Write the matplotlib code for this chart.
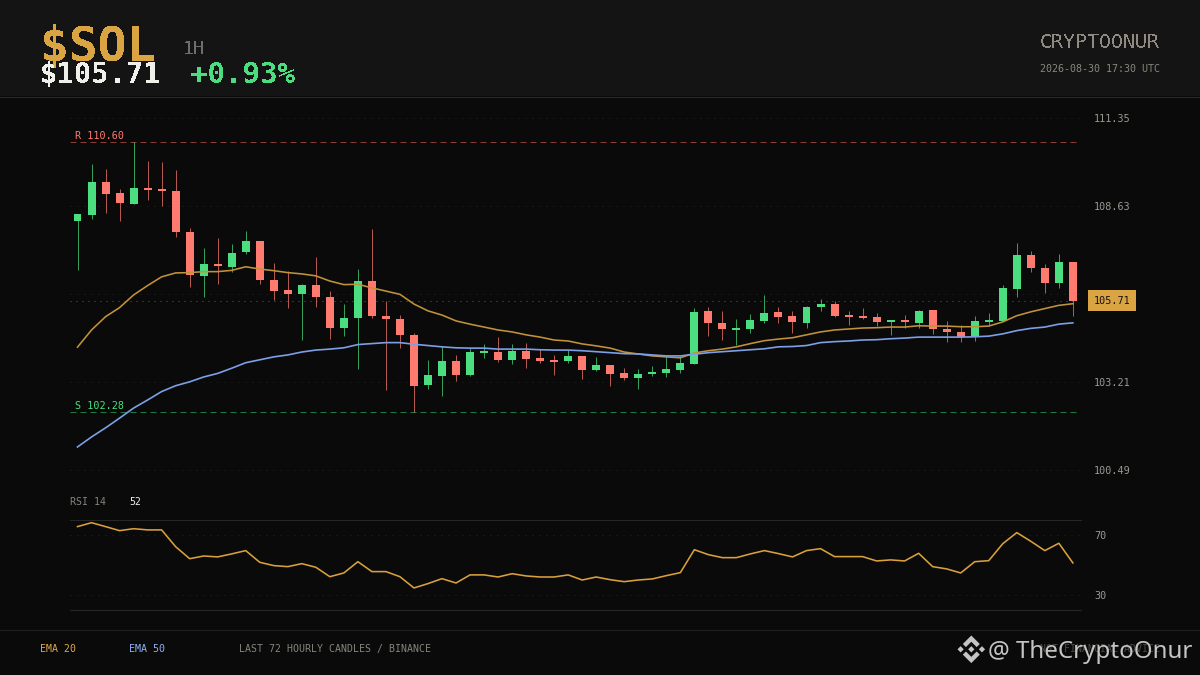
import matplotlib
matplotlib.use('Agg')
import matplotlib.pyplot as plt
from matplotlib.patches import Polygon, Rectangle

# Candles, last 72 hours
opens = [108.17, 108.36, 109.38, 109.04, 108.70, 109.19, 109.16, 109.10, 107.83, 106.48, 106.85, 106.75,
         107.22, 107.56, 106.35, 106.04, 105.92, 106.20, 105.83, 104.87, 105.18, 106.32, 105.24, 105.15,
         104.66, 103.11, 103.39, 103.85, 103.42, 104.10, 104.13, 103.88, 104.16, 103.95, 103.88, 103.85,
         104.01, 103.58, 103.73, 103.48, 103.33, 103.45, 103.48, 103.58, 103.76, 105.40, 105.03, 104.81,
         104.84, 105.09, 105.37, 105.24, 105.03, 105.52, 105.61, 105.27, 105.24, 105.21, 105.06, 105.12,
         105.03, 105.43, 104.84, 104.75, 104.59, 105.06, 105.09, 106.07, 107.12, 106.72, 106.26, 106.91]
highs = [108.39, 109.93, 109.78, 109.16, 110.60, 110.02, 109.99, 109.75, 107.96, 107.34, 107.65, 107.46,
         107.86, 107.56, 106.88, 106.63, 106.23, 107.06, 106.01, 105.61, 106.69, 107.93, 105.71, 105.27,
         104.72, 103.88, 104.32, 104.04, 104.25, 104.38, 104.59, 104.38, 104.41, 104.22, 104.04, 104.19,
         104.01, 103.98, 103.73, 103.64, 103.61, 103.70, 104.01, 104.01, 105.49, 105.52, 105.40, 105.15,
         105.30, 105.89, 105.52, 105.40, 105.55, 105.77, 105.71, 105.40, 105.49, 105.33, 105.12, 105.27,
         105.43, 105.43, 105.09, 104.96, 105.24, 105.33, 106.20, 107.49, 107.25, 106.85, 107.15, 106.91]
lows = [106.66, 108.23, 108.42, 108.17, 108.70, 108.82, 108.64, 107.68, 106.14, 105.83, 106.23, 106.60,
        107.15, 106.23, 105.74, 105.49, 104.50, 105.52, 104.53, 104.62, 103.61, 105.18, 102.96, 104.25,
        102.28, 102.99, 102.77, 103.24, 103.39, 103.95, 103.82, 103.76, 103.64, 103.79, 103.42, 103.79,
        103.30, 103.54, 103.08, 103.27, 102.99, 103.39, 103.36, 103.48, 103.76, 104.62, 104.50, 104.35,
        104.72, 105.03, 105.03, 104.72, 104.87, 105.40, 105.21, 104.96, 105.15, 104.93, 104.66, 104.87,
        104.87, 104.69, 104.44, 104.44, 104.47, 104.93, 105.09, 105.83, 106.60, 105.95, 106.11, 105.24]
closes = [108.39, 109.38, 109.01, 108.73, 109.19, 109.13, 109.10, 107.83, 106.51, 106.85, 106.78, 107.19,
          107.56, 106.35, 106.01, 105.92, 106.20, 105.83, 104.87, 105.18, 106.32, 105.24, 105.15, 104.66,
          103.08, 103.42, 103.85, 103.42, 104.13, 104.16, 103.88, 104.16, 103.92, 103.85, 103.82, 104.01,
          103.58, 103.73, 103.45, 103.33, 103.45, 103.51, 103.61, 103.79, 105.37, 105.03, 104.84, 104.87,
          105.12, 105.33, 105.21, 105.06, 105.52, 105.61, 105.24, 105.21, 105.18, 105.06, 105.12, 105.06,
          105.40, 104.84, 104.75, 104.59, 105.09, 105.12, 106.11, 107.12, 106.72, 106.26, 106.91, 105.71]

ema20 = [104.28, 104.81, 105.22, 105.50, 105.89, 106.18, 106.45, 106.57, 106.58, 106.61, 106.61, 106.65,
         106.76, 106.69, 106.64, 106.58, 106.54, 106.48, 106.32, 106.21, 106.22, 106.11, 106.01, 105.91,
         105.61, 105.40, 105.27, 105.09, 104.99, 104.90, 104.81, 104.75, 104.66, 104.59, 104.50, 104.47,
         104.38, 104.32, 104.25, 104.13, 104.07, 104.01, 103.98, 103.95, 104.10, 104.17, 104.22, 104.29,
         104.39, 104.48, 104.53, 104.57, 104.66, 104.75, 104.81, 104.84, 104.87, 104.88, 104.90, 104.90,
         104.94, 104.93, 104.93, 104.91, 104.91, 104.93, 105.06, 105.25, 105.37, 105.47, 105.57, 105.62]
ema50 = [101.20, 101.51, 101.79, 102.09, 102.40, 102.65, 102.91, 103.09, 103.21, 103.36, 103.47, 103.63,
         103.80, 103.89, 103.98, 104.04, 104.13, 104.19, 104.22, 104.26, 104.36, 104.39, 104.42, 104.42,
         104.37, 104.33, 104.29, 104.26, 104.25, 104.25, 104.22, 104.22, 104.22, 104.20, 104.19, 104.19,
         104.17, 104.14, 104.11, 104.08, 104.07, 104.04, 104.01, 104.01, 104.06, 104.11, 104.14, 104.17,
         104.20, 104.23, 104.29, 104.30, 104.33, 104.42, 104.45, 104.47, 104.50, 104.51, 104.54, 104.56,
         104.59, 104.59, 104.59, 104.59, 104.60, 104.62, 104.69, 104.79, 104.86, 104.90, 104.99, 105.03]
rsi = [75.8, 78.4, 75.8, 73.1, 74.4, 73.6, 73.6, 62.4, 54.4, 56.2, 55.6, 57.6, 59.8, 52.0, 49.8, 49.1,
       51.1, 48.7, 42.4, 44.9, 52.4, 45.8, 45.8, 42.4, 34.9, 37.8, 41.1, 38.2, 43.6, 43.6, 42.2, 44.4,
       42.9, 42.2, 42.2, 43.6, 40.2, 42.2, 40.4, 39.1, 40.2, 40.9, 43.1, 45.1, 60.4, 57.1, 55.1, 55.1,
       57.6, 59.8, 57.8, 55.6, 59.8, 61.1, 55.8, 55.8, 55.8, 52.9, 53.6, 52.9, 58.0, 49.1, 47.6, 44.9,
       52.4, 53.1, 64.4, 71.8, 66.0, 59.8, 64.7, 51.6]

price_ticks = [100.49, 103.21, 105.92, 108.63, 111.35]
rsi_ticks = [30, 70]
resistance = 110.60
support = 102.28
last_price = 105.71

# Colors
BG = '#0a0a0a'
HEADER = '#141414'
GOLD = '#d9a441'
GREEN = '#4ade80'
RED = '#ff7b6f'
BLUE = '#7c9fe6'
MUTED = '#9a9a92'

plt.rcParams['font.family'] = ['DejaVu Sans Mono']

W, H = 1200, 675
fig = plt.figure(figsize=(W / 100, H / 100), dpi=100, facecolor=BG)


def fx(x):
    return x / W


def fy(y):
    return 1 - y / H


def label(x, y, s, **kw):
    kw.setdefault('family', 'DejaVu Sans Mono')
    return fig.text(fx(x), fy(y), s, va=kw.pop('va', 'baseline'), **kw)


# Header band and separators
fig.add_artist(Rectangle((0, fy(96)), 1, 96 / H, transform=fig.transFigure, facecolor=HEADER, edgecolor='none', zorder=-5))
fig.add_artist(plt.Line2D([0, 1], [fy(96.5), fy(96.5)], color='#2b2725', lw=0.8, zorder=-4))
fig.add_artist(plt.Line2D([0, 1], [fy(629.5), fy(629.5)], color='#1f1f1f', lw=0.8, zorder=-4))

# Price panel
ax = fig.add_axes([fx(70), fy(470), 1011 / W, 352 / H], facecolor='none')
idx = list(range(len(closes)))
xlim = (-0.535, 71.58)
ax.set_xlim(xlim)
ax.set_ylim(price_ticks[0], price_ticks[-1])

colors = [GREEN if c >= o else RED for o, c in zip(opens, closes)]
ax.vlines(idx, lows, highs, colors=colors, lw=0.72, alpha=0.7, zorder=3)
ax.bar(idx, [abs(c - o) for o, c in zip(opens, closes)], bottom=[min(o, c) for o, c in zip(opens, closes)],
       width=0.57, color=colors, linewidth=0, zorder=4)

ax.plot(idx, ema20, color='#c2923a', lw=1.15, zorder=5)
ax.plot(idx, ema50, color=BLUE, lw=1.2, zorder=5)

# Support / resistance and last price
ax.axhline(resistance, xmax=0.996, color='#8a3c38', lw=0.72, ls=(0, (6, 4)), zorder=2)
ax.axhline(support, xmax=0.996, color='#1f7a42', lw=0.72, ls=(0, (6, 4)), zorder=2)
ax.axhline(last_price, xmax=0.996, color='#6e5a30', lw=0.72, ls=(0, (1, 5)), zorder=2)
ax.annotate(f'R {resistance:.2f}', (0.005, resistance), xycoords=ax.get_yaxis_transform(), xytext=(0, 2.5),
            textcoords='offset points', color=RED, fontsize=7.3)
ax.annotate(f'S {support:.2f}', (0.005, support), xycoords=ax.get_yaxis_transform(), xytext=(0, 2.5),
            textcoords='offset points', color=GREEN, fontsize=7.3)
ax.text((1112 - 70) / 1011, last_price, f'{last_price:.2f}', transform=ax.get_yaxis_transform(), ha='center',
        va='center', color='#111111', fontsize=7.3, zorder=8, clip_on=False,
        bbox=dict(facecolor=GOLD, edgecolor='none', boxstyle='square,pad=0.55'))

ax.set_xticks([])
ax.set_yticks(price_ticks)
ax.set_yticklabels([f'{v:.2f}' for v in price_ticks])
ax.yaxis.tick_right()
ax.tick_params(axis='y', length=0, pad=9.4, labelsize=7.3, labelcolor=MUTED)
ax.grid(axis='y', color='#242424', lw=0.72, ls=(0, (1, 6)), clip_on=False)
ax.set_axisbelow(True)
for s in ax.spines.values():
    s.set_visible(False)

# RSI panel
rax = fig.add_axes([fx(70), fy(610.3), 1011 / W, 90 / H], facecolor='none')
rax.set_xlim(xlim)
rax.set_ylim(20, 80)
rax.plot(idx, rsi, color='#d9a03c', lw=1.15, zorder=4)
rax.set_xticks([])
rax.set_yticks(rsi_ticks)
rax.set_yticklabels([str(v) for v in rsi_ticks])
rax.yaxis.tick_right()
rax.tick_params(axis='y', length=0, pad=9.4, labelsize=7.3, labelcolor=MUTED)
rax.grid(axis='y', color='#242424', lw=0.72, ls=(0, (1, 6)))
rax.set_axisbelow(True)
for side, s in rax.spines.items():
    s.set_visible(side in ('top', 'bottom'))
    s.set_color('#262626')
    s.set_linewidth(0.8)

# Header text, big sizes keep the jagged look of the original
label(40, 60.5, '$SOL', color=GOLD, fontsize=34.6, fontweight='bold', antialiased=False)
label(183, 54, '1H', color='#6e6e6a', fontsize=13.2, antialiased=False)
label(40, 83, '$105.71', color='#f0f0ea', fontsize=20.8, fontweight='bold', antialiased=False)
label(190, 83, '+0.93%', color=GREEN, fontsize=21, fontweight='bold', antialiased=False)
label(1160, 48, 'CRYPTOONUR', color='#8f8b80', fontsize=14.4, ha='right', antialiased=False)
label(1160, 71.5, '2026-08-30 17:30 UTC', color='#8a877e', fontsize=7.2, ha='right')
label(70, 505, 'RSI 14', color='#85857d', fontsize=7.1)
label(129, 505, '52', color='#f0f0ea', fontsize=7.1)

# Footer text
label(40, 652, 'EMA 20', color='#e0a84a', fontsize=7.1)
label(129, 652, 'EMA 50', color='#8fb0f5', fontsize=7.2)
label(239, 652, 'LAST 72 HOURLY CANDLES / BINANCE', color='#85857d', fontsize=7.1)
label(1160, 652, 'NOT FINANCIAL ADVICE', color='#4a4a45', fontsize=7.1, ha='right')

# Watermark, logo shapes from a 126.6 unit square
LOGO = [
    [(38.7, 53.2), (63.3, 28.6), (87.9, 53.2), (102.2, 38.9), (63.3, 0), (24.4, 38.9)],
    [(38.7, 73.4), (63.3, 98.0), (87.9, 73.4), (102.2, 87.7), (63.3, 126.6), (24.4, 87.7)],
    [(63.3, 49), (77.6, 63.3), (63.3, 77.6), (49, 63.3)],
    [(0, 63.3), (14.3, 49), (28.6, 63.3), (14.3, 77.6)],
    [(98, 63.3), (112.3, 49), (126.6, 63.3), (112.3, 77.6)],
]
for shape in LOGO:
    pts = [(fx(957.5 + px * 0.218), fy(635.5 + py * 0.218)) for px, py in shape]
    fig.add_artist(Polygon(pts, closed=True, transform=fig.transFigure, facecolor='#c4c4c4', edgecolor='none', zorder=6))
fig.text(fx(1192), fy(658), '@ TheCryptoOnur', family='Noto Sans', color='#c4c4c4', fontsize=17.4, ha='right',
         va='baseline', zorder=7)

fig.savefig('out.png', dpi=100, facecolor=BG)
